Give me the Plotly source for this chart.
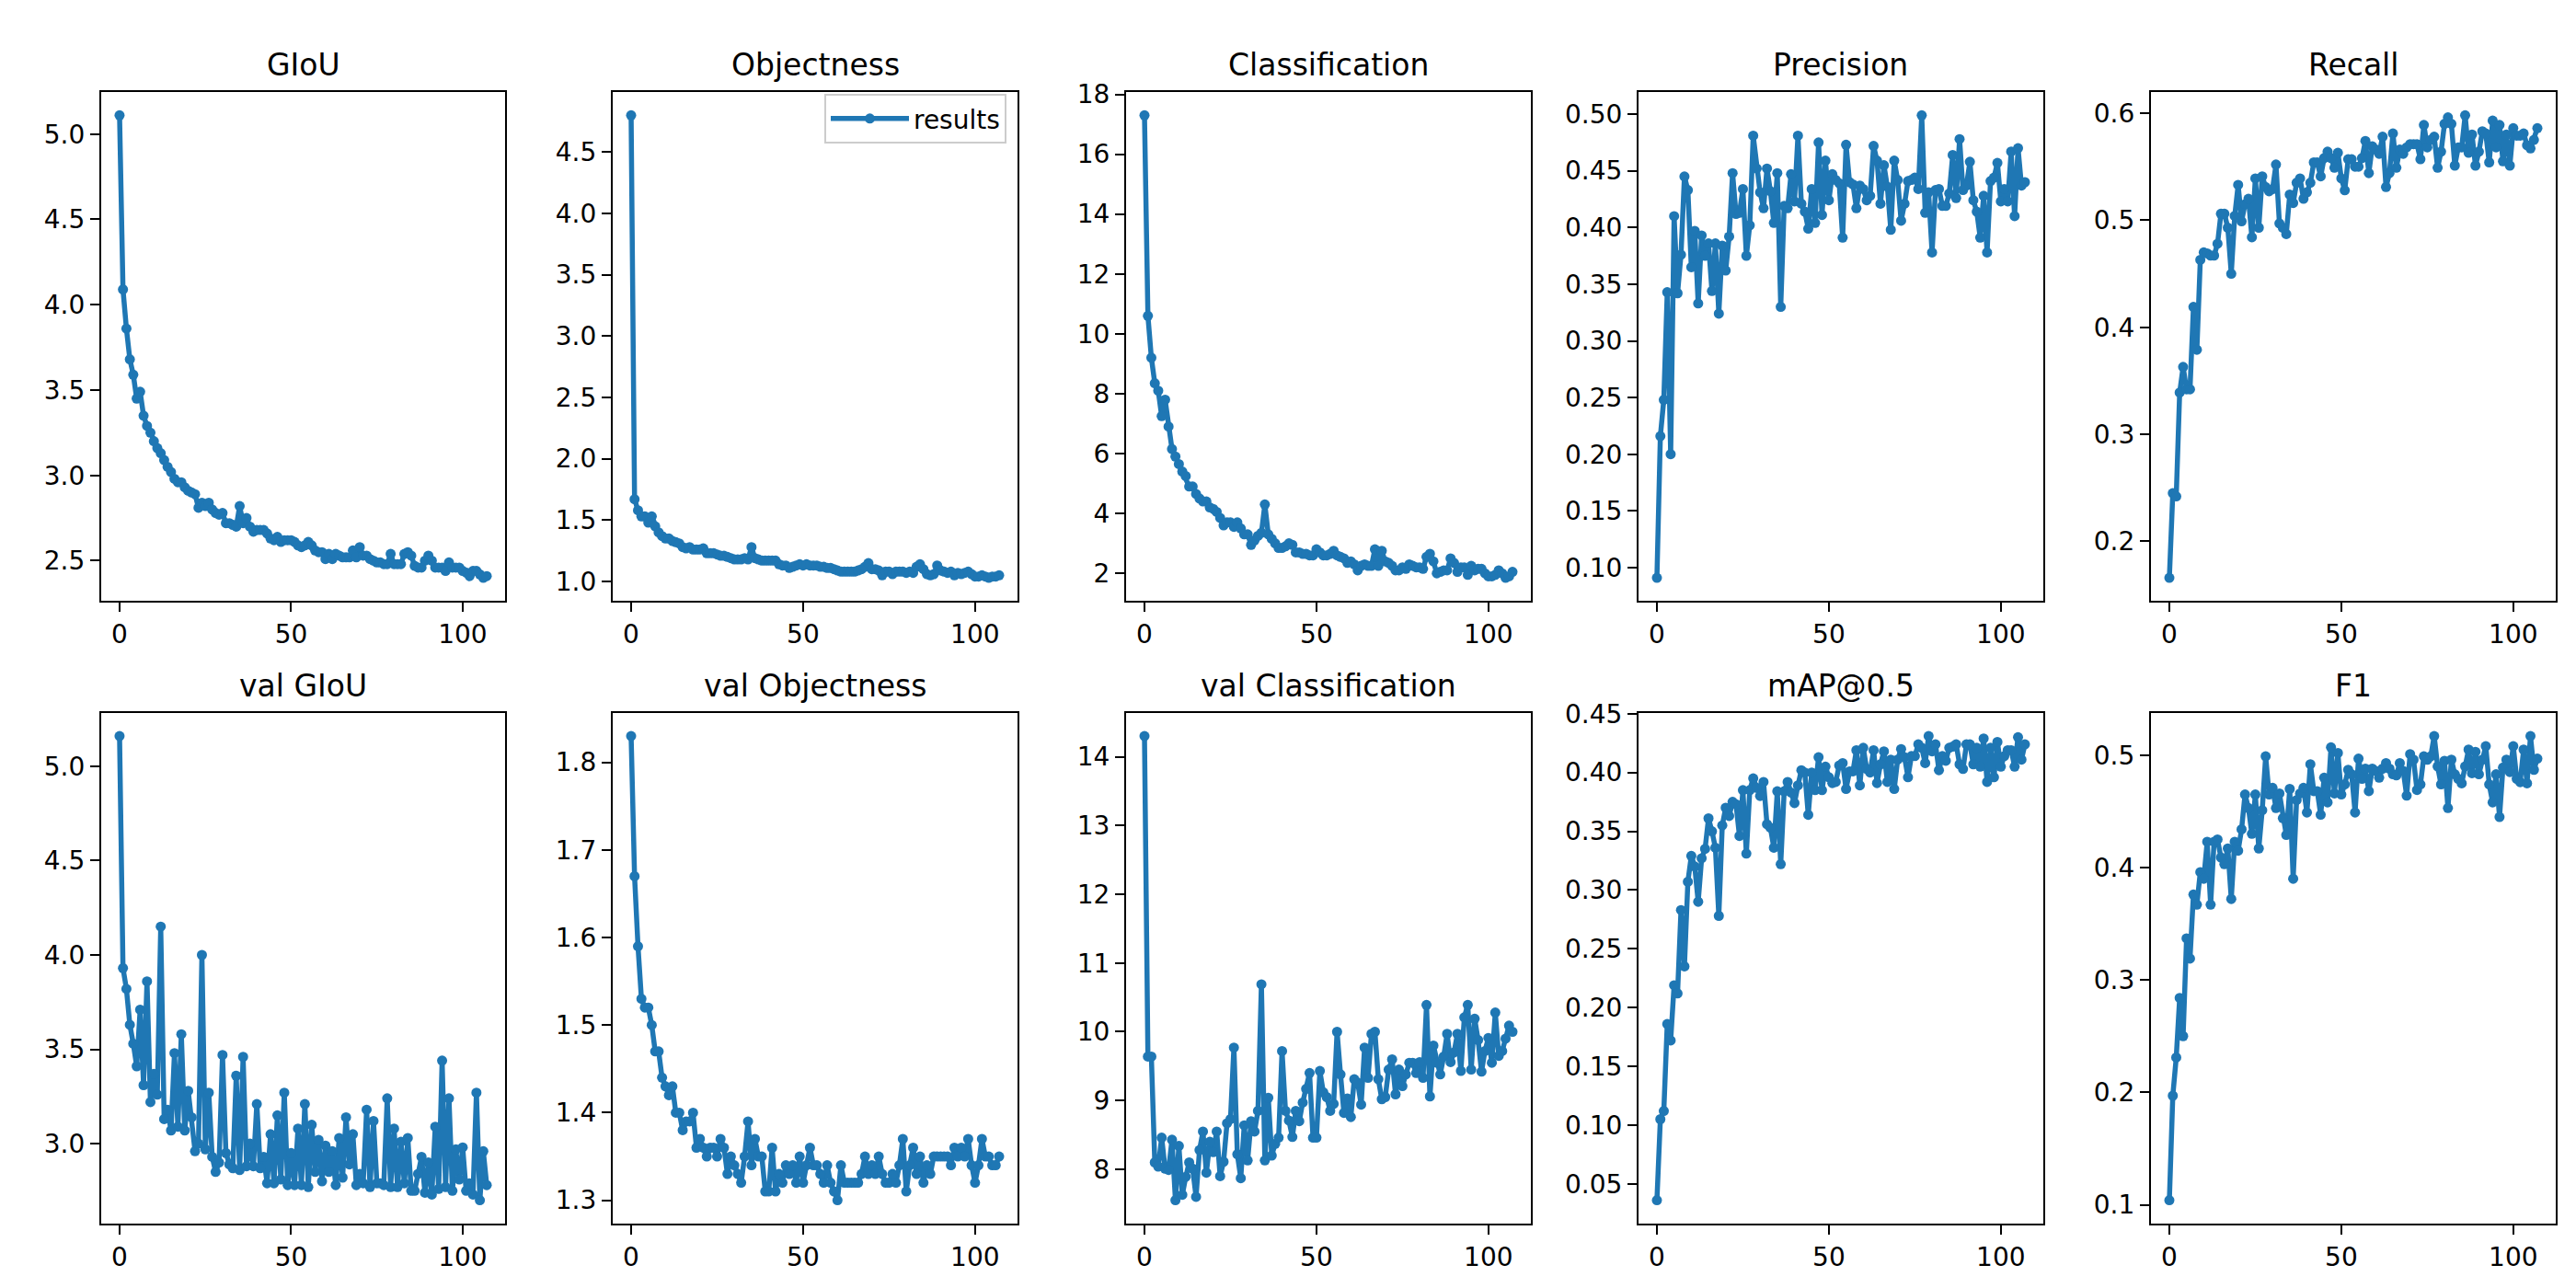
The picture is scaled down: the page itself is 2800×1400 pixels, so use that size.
import numpy as np
import plotly.graph_objects as go
from plotly.subplots import make_subplots

# per-epoch values (epochs 0..107)
epochs = list(range(108))

giou = [5.11, 4.09, 3.86, 3.68, 3.59, 3.45, 3.49, 3.35, 3.29, 3.25,
        3.20, 3.16, 3.13, 3.09, 3.05, 3.02, 2.98, 2.96, 2.96, 2.93,
        2.91, 2.90, 2.89, 2.81, 2.84, 2.82, 2.84, 2.80, 2.78, 2.77,
        2.78, 2.72, 2.72, 2.71, 2.70, 2.82, 2.72, 2.75, 2.70, 2.67,
        2.68, 2.68, 2.68, 2.66, 2.63, 2.62, 2.64, 2.61, 2.62, 2.62,
        2.62, 2.61, 2.59, 2.58, 2.59, 2.61, 2.59, 2.56, 2.55, 2.55,
        2.51, 2.54, 2.51, 2.54, 2.53, 2.52, 2.52, 2.52, 2.56, 2.52,
        2.58, 2.53, 2.53, 2.51, 2.50, 2.49, 2.49, 2.48, 2.48, 2.54,
        2.48, 2.48, 2.48, 2.54, 2.55, 2.53, 2.47, 2.46, 2.46, 2.50,
        2.53, 2.50, 2.46, 2.46, 2.46, 2.44, 2.49, 2.46, 2.46, 2.46,
        2.44, 2.43, 2.41, 2.44, 2.44, 2.42, 2.40, 2.41]

objectness = [4.80, 1.67, 1.58, 1.53, 1.53, 1.48, 1.53, 1.45, 1.40, 1.37,
              1.35, 1.35, 1.33, 1.32, 1.31, 1.28, 1.27, 1.28, 1.26, 1.26,
              1.26, 1.27, 1.23, 1.23, 1.23, 1.22, 1.21, 1.21, 1.20, 1.19,
              1.18, 1.18, 1.18, 1.19, 1.18, 1.28, 1.19, 1.18, 1.17, 1.17,
              1.17, 1.17, 1.17, 1.14, 1.13, 1.13, 1.11, 1.12, 1.13, 1.14,
              1.13, 1.14, 1.13, 1.13, 1.13, 1.12, 1.12, 1.11, 1.11, 1.10,
              1.09, 1.08, 1.08, 1.08, 1.08, 1.08, 1.09, 1.10, 1.12, 1.15,
              1.10, 1.10, 1.09, 1.05, 1.08, 1.08, 1.06, 1.08, 1.08, 1.08,
              1.07, 1.08, 1.07, 1.12, 1.14, 1.10, 1.06, 1.05, 1.06, 1.13,
              1.09, 1.08, 1.07, 1.08, 1.05, 1.07, 1.06, 1.07, 1.08, 1.06,
              1.04, 1.04, 1.05, 1.04, 1.03, 1.04, 1.04, 1.05]

classification = [17.3, 10.6, 9.2, 8.35, 8.1, 7.25, 7.8, 6.9, 6.15, 5.9,
                  5.65, 5.4, 5.25, 4.9, 4.9, 4.65, 4.5, 4.4, 4.4, 4.2,
                  4.15, 4.05, 3.85, 3.6, 3.7, 3.7, 3.55, 3.7, 3.5, 3.3,
                  3.3, 2.95, 3.1, 3.25, 3.35, 4.3, 3.3, 3.15, 3.0, 2.85,
                  2.85, 2.9, 3.0, 2.95, 2.7, 2.7, 2.65, 2.65, 2.6, 2.6,
                  2.8, 2.7, 2.6, 2.6, 2.65, 2.75, 2.6, 2.55, 2.5, 2.35,
                  2.4, 2.3, 2.1, 2.25, 2.3, 2.25, 2.25, 2.8, 2.25, 2.75,
                  2.4, 2.35, 2.25, 2.1, 2.1, 2.2, 2.15, 2.3, 2.25, 2.2,
                  2.2, 2.15, 2.55, 2.65, 2.4, 2.0, 2.05, 2.1, 2.1, 2.5,
                  2.35, 2.05, 2.2, 2.2, 1.95, 2.25, 2.1, 2.15, 2.15, 2.0,
                  1.9, 1.9, 1.95, 2.1, 2.0, 1.85, 1.9, 2.05]

precision = [0.091, 0.216, 0.248, 0.343, 0.200, 0.410, 0.342, 0.376, 0.445, 0.433,
             0.365, 0.397, 0.333, 0.393, 0.375, 0.386, 0.344, 0.386, 0.324, 0.384,
             0.362, 0.392, 0.448, 0.412, 0.413, 0.434, 0.375, 0.402, 0.481, 0.452,
             0.431, 0.417, 0.452, 0.432, 0.404, 0.448, 0.330, 0.419, 0.417, 0.447,
             0.423, 0.481, 0.421, 0.414, 0.399, 0.434, 0.404, 0.475, 0.411, 0.459,
             0.424, 0.447, 0.442, 0.439, 0.391, 0.473, 0.440, 0.438, 0.417, 0.437,
             0.434, 0.424, 0.428, 0.472, 0.459, 0.421, 0.455, 0.436, 0.398, 0.459,
             0.442, 0.406, 0.421, 0.441, 0.442, 0.444, 0.434, 0.499, 0.413, 0.431,
             0.378, 0.433, 0.434, 0.419, 0.419, 0.430, 0.464, 0.426, 0.478, 0.433,
             0.437, 0.458, 0.424, 0.414, 0.391, 0.428, 0.378, 0.441, 0.444, 0.457,
             0.423, 0.434, 0.423, 0.467, 0.410, 0.470, 0.437, 0.440]

recall = [0.166, 0.245, 0.242, 0.339, 0.363, 0.342, 0.342, 0.419, 0.379, 0.463,
          0.470, 0.469, 0.467, 0.467, 0.478, 0.506, 0.506, 0.493, 0.450, 0.504,
          0.533, 0.499, 0.515, 0.520, 0.484, 0.539, 0.493, 0.541, 0.531, 0.527,
          0.529, 0.552, 0.497, 0.493, 0.487, 0.524, 0.516, 0.535, 0.539, 0.520,
          0.526, 0.535, 0.554, 0.554, 0.541, 0.558, 0.564, 0.558, 0.549, 0.563,
          0.539, 0.528, 0.557, 0.557, 0.550, 0.550, 0.558, 0.574, 0.544, 0.569,
          0.566, 0.562, 0.578, 0.531, 0.544, 0.581, 0.549, 0.566, 0.562, 0.568,
          0.571, 0.571, 0.571, 0.557, 0.589, 0.568, 0.575, 0.578, 0.549, 0.564,
          0.590, 0.596, 0.590, 0.551, 0.568, 0.568, 0.598, 0.563, 0.580, 0.551,
          0.564, 0.583, 0.581, 0.554, 0.593, 0.568, 0.589, 0.555, 0.580, 0.551,
          0.586, 0.579, 0.579, 0.581, 0.570, 0.567, 0.575, 0.586]

val_giou = [5.16, 3.93, 3.82, 3.63, 3.53, 3.41, 3.71, 3.31, 3.86, 3.22,
            3.37, 3.26, 4.15, 3.13, 3.18, 3.07, 3.48, 3.09, 3.58, 3.07,
            3.28, 3.14, 2.96, 3.00, 4.00, 2.97, 3.27, 2.93, 2.85, 2.90,
            3.47, 2.95, 2.89, 2.87, 3.36, 2.86, 3.46, 2.88, 3.00, 2.88,
            3.21, 2.87, 2.93, 2.79, 3.05, 2.79, 3.15, 2.81, 3.27, 2.78,
            2.95, 2.78, 3.08, 2.78, 3.21, 2.77, 3.10, 2.85, 3.02, 2.80,
            2.99, 2.85, 2.96, 2.78, 3.03, 2.82, 3.14, 2.89, 3.05, 2.78,
            2.84, 2.79, 3.18, 2.77, 3.12, 2.79, 2.79, 2.78, 3.24, 2.77,
            3.08, 2.77, 3.01, 2.79, 3.03, 2.75, 2.75, 2.84, 2.93, 2.74,
            2.90, 2.73, 3.09, 2.76, 3.44, 2.77, 3.24, 2.75, 2.97, 2.81,
            2.98, 2.75, 2.79, 2.73, 3.27, 2.70, 2.96, 2.78]

val_objectness = [1.83, 1.67, 1.59, 1.53, 1.52, 1.52, 1.50, 1.47, 1.47, 1.44,
                  1.43, 1.42, 1.43, 1.40, 1.40, 1.38, 1.39, 1.39, 1.40, 1.36,
                  1.37, 1.36, 1.35, 1.36, 1.36, 1.35, 1.37, 1.36, 1.33, 1.35,
                  1.34, 1.33, 1.32, 1.35, 1.39, 1.34, 1.37, 1.35, 1.35, 1.31,
                  1.31, 1.36, 1.31, 1.33, 1.32, 1.34, 1.33, 1.34, 1.32, 1.35,
                  1.32, 1.34, 1.36, 1.34, 1.34, 1.33, 1.32, 1.34, 1.32, 1.31,
                  1.30, 1.34, 1.32, 1.32, 1.32, 1.32, 1.32, 1.33, 1.35, 1.33,
                  1.34, 1.33, 1.35, 1.33, 1.32, 1.32, 1.33, 1.32, 1.34, 1.37,
                  1.31, 1.34, 1.36, 1.33, 1.35, 1.32, 1.34, 1.33, 1.35, 1.35,
                  1.35, 1.35, 1.35, 1.34, 1.36, 1.35, 1.36, 1.35, 1.37, 1.34,
                  1.32, 1.34, 1.37, 1.35, 1.35, 1.34, 1.34, 1.35]

val_classification = [14.3, 9.64, 9.64, 8.10, 8.04, 8.46, 8.01, 7.99, 8.43, 7.55,
                      8.34, 7.63, 7.89, 8.10, 8.01, 7.60, 8.28, 8.55, 7.95, 8.40,
                      8.25, 8.55, 7.90, 8.11, 8.67, 8.73, 9.77, 8.22, 7.87, 8.64,
                      8.13, 8.70, 8.55, 8.85, 10.69, 8.13, 9.04, 8.20, 8.37, 8.46,
                      9.72, 8.85, 8.71, 8.47, 8.85, 8.70, 8.97, 9.17, 9.40, 8.46,
                      8.46, 9.43, 9.12, 9.05, 8.85, 8.95, 10.0, 9.38, 8.82, 9.03,
                      8.76, 9.31, 9.26, 8.94, 9.77, 9.33, 9.97, 10.0, 9.31, 9.02,
                      9.05, 9.45, 9.60, 9.09, 9.45, 9.21, 9.38, 9.55, 9.55, 9.40,
                      9.56, 9.33, 10.39, 9.06, 9.80, 9.55, 9.38, 9.64, 9.97, 9.56,
                      9.70, 9.97, 9.43, 10.21, 10.39, 9.45, 10.19, 9.88, 9.42, 9.72,
                      9.91, 9.55, 10.28, 9.65, 9.72, 9.90, 10.09, 10.0]

map50 = [0.036, 0.105, 0.112, 0.186, 0.172, 0.219, 0.212, 0.283, 0.235, 0.307,
         0.329, 0.320, 0.290, 0.327, 0.335, 0.361, 0.350, 0.336, 0.278, 0.355,
         0.370, 0.363, 0.375, 0.373, 0.346, 0.385, 0.331, 0.385, 0.395, 0.387,
         0.380, 0.392, 0.356, 0.353, 0.336, 0.384, 0.322, 0.384, 0.392, 0.383,
         0.374, 0.389, 0.402, 0.400, 0.364, 0.400, 0.385, 0.413, 0.385, 0.405,
         0.396, 0.391, 0.392, 0.406, 0.408, 0.386, 0.401, 0.401, 0.419, 0.389,
         0.421, 0.403, 0.400, 0.419, 0.391, 0.407, 0.418, 0.392, 0.411, 0.386,
         0.411, 0.420, 0.413, 0.396, 0.414, 0.414, 0.424, 0.421, 0.408, 0.431,
         0.418, 0.424, 0.402, 0.414, 0.410, 0.421, 0.422, 0.424, 0.407, 0.403,
         0.424, 0.424, 0.407, 0.421, 0.405, 0.429, 0.392, 0.421, 0.396, 0.426,
         0.405, 0.414, 0.419, 0.419, 0.405, 0.430, 0.411, 0.424]

f1 = [0.104, 0.197, 0.231, 0.284, 0.250, 0.337, 0.319, 0.376, 0.367, 0.396,
      0.390, 0.423, 0.367, 0.423, 0.425, 0.409, 0.403, 0.417, 0.372, 0.423,
      0.415, 0.434, 0.465, 0.453, 0.430, 0.465, 0.417, 0.451, 0.499, 0.465,
      0.471, 0.453, 0.466, 0.444, 0.429, 0.470, 0.390, 0.460, 0.466, 0.471,
      0.449, 0.492, 0.468, 0.468, 0.447, 0.480, 0.458, 0.507, 0.466, 0.502,
      0.465, 0.474, 0.487, 0.483, 0.449, 0.497, 0.479, 0.488, 0.468, 0.488,
      0.486, 0.480, 0.488, 0.493, 0.488, 0.483, 0.482, 0.493, 0.486, 0.464,
      0.501, 0.496, 0.469, 0.474, 0.499, 0.496, 0.499, 0.517, 0.490, 0.474,
      0.495, 0.453, 0.496, 0.483, 0.479, 0.475, 0.490, 0.505, 0.484, 0.503,
      0.483, 0.496, 0.508, 0.474, 0.458, 0.483, 0.445, 0.489, 0.496, 0.485,
      0.508, 0.479, 0.476, 0.505, 0.475, 0.517, 0.487, 0.497]

titles = ['GIoU', 'Objectness', 'Classification', 'Precision', 'Recall',
          'val GIoU', 'val Objectness', 'val Classification', 'mAP@0.5', 'F1']
series = [giou, objectness, classification, precision, recall,
          val_giou, val_objectness, val_classification, map50, f1]
# y tick step and label format per panel
y_dticks = [0.5, 0.5, 2, 0.05, 0.1, 0.5, 0.1, 1, 0.05, 0.1]
y_formats = ['.1f', '.1f', 'd', '.2f', '.1f', '.1f', '.1f', 'd', '.2f', '.1f']

W, H = 2800, 1400
blue = '#1f77b4'
font = 'DejaVu Sans'

# axes boxes in pixels (matplotlib tight_layout of a 2x5 grid)
col_px = [(102, 541), (658, 1098), (1216, 1656), (1773, 2213), (2330, 2770)]
row_px = [(78, 637), (760, 1321)]

fig = make_subplots(rows=2, cols=5)

annotations = []
for k, (name, ys) in enumerate(zip(titles, series)):
    r, c = divmod(k, 5)
    fig.add_trace(go.Scatter(x=epochs, y=ys, mode='lines+markers', name='results',
                             line=dict(color=blue, width=5.5),
                             marker=dict(color=blue, size=11),
                             showlegend=(k == 1)),
                  row=r + 1, col=c + 1)

    x0, x1 = col_px[c]
    t0, t1 = row_px[r]
    lo, hi = min(ys), max(ys)
    pad = 0.05 * (hi - lo)
    axis_style = dict(showline=True, mirror=True, linecolor='black', linewidth=2.2,
                      ticks='outside', ticklen=10, tickwidth=2.2, tickcolor='black',
                      showgrid=False, zeroline=False,
                      tickfont=dict(family=font, size=28, color='black'))
    fig.update_xaxes(domain=[x0 / W, x1 / W], range=[-5.35, 112.35],
                     tickvals=[0, 50, 100], row=r + 1, col=c + 1, **axis_style)
    fig.update_yaxes(domain=[1 - t1 / H, 1 - t0 / H], range=[lo - pad, hi + pad],
                     tick0=0, dtick=y_dticks[k], tickformat=y_formats[k],
                     row=r + 1, col=c + 1, **axis_style)

    annotations.append(dict(text=name, x=(x0 + x1) / 2 / W, y=1 - t0 / H,
                            xref='paper', yref='paper', xanchor='center', yanchor='bottom',
                            yshift=8, showarrow=False,
                            font=dict(family=font, size=33, color='black')))

fig.update_layout(width=W, height=H, margin=dict(l=0, r=0, t=0, b=0),
                  paper_bgcolor='white', plot_bgcolor='white',
                  font=dict(family=font, color='black'),
                  annotations=annotations,
                  legend=dict(x=1086 / W, xanchor='right', y=1 - 80 / H, yanchor='top',
                              bgcolor='rgba(255,255,255,0.8)', bordercolor='#cccccc',
                              borderwidth=2, itemwidth=85,
                              font=dict(family=font, size=28, color='black')))

fig.write_html("out.html")
